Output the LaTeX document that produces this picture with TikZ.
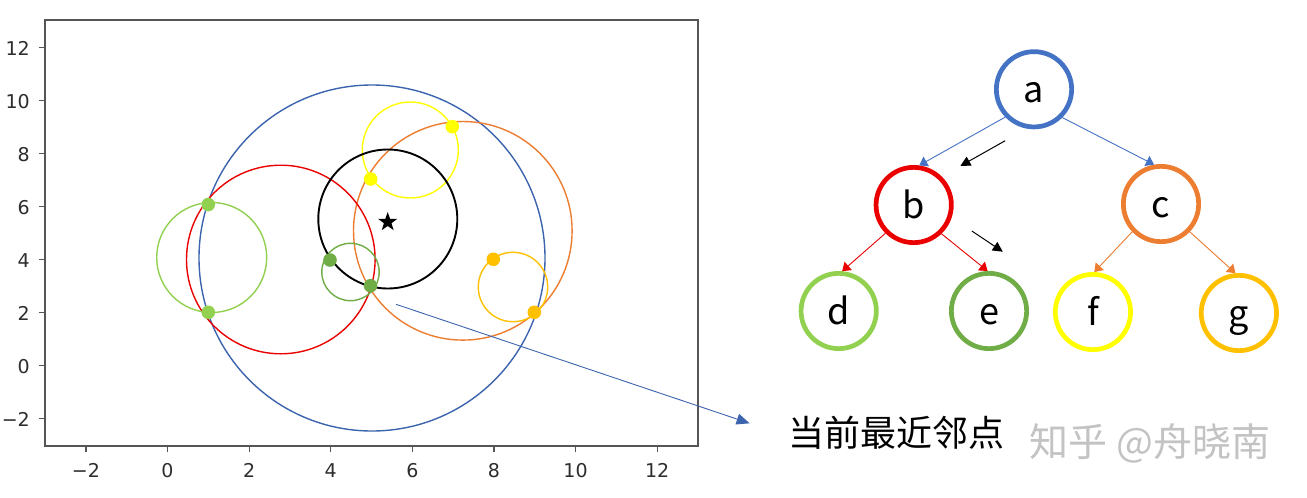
\documentclass[tikz,border=0pt]{standalone}
\usepackage{fontspec}
\newfontfamily\cjk{Noto Sans CJK SC}
\newfontfamily\tickfont{DejaVu Sans}
\usetikzlibrary{arrows.meta,shapes.geometric}
\definecolor{oblue}{RGB}{68,114,196}
\definecolor{lblue}{RGB}{60,100,175}
\definecolor{ored}{RGB}{235,0,0}
\definecolor{oorange}{RGB}{237,125,49}
\definecolor{olgreen}{RGB}{146,208,80}
\definecolor{odgreen}{RGB}{112,173,71}
\definecolor{oyellow}{RGB}{255,255,0}
\definecolor{ogold}{RGB}{255,192,0}
\definecolor{axgray}{RGB}{85,85,85}
\definecolor{ticktext}{RGB}{45,45,45}
\definecolor{wmgray}{RGB}{195,195,195}
\tikzset{
  ticklabel/.style={font=\tickfont\fontsize{19}{22}\selectfont, text=ticktext, inner sep=0},
  pcircle/.style={line width=1.4},
  pdot/.style={radius=6.8},
  tnode/.style={circle, line width=4.7, minimum size=75.3, inner sep=0,
    text height=27, text depth=0,
    font=\cjk\fontsize{36}{40}\selectfont},
  tedge/.style={line width=0.9, -{Triangle[length=8,width=11]}},
  hintarrow/.style={black, line width=1, -{Triangle[length=10,width=10]}},
}
\begin{document}
\begin{tikzpicture}[x=1pt,y=-1pt]
\useasboundingbox (0,0) rectangle (1307,498);
\fill[white] (0,0) rectangle (1307,498);
% ---------- plot ----------
\draw[axgray, line width=1.6] (45,20) rectangle (697.7,445.7);
\foreach \d/\t in {-2/−2,0/0,2/2,4/4,6/6,8/8,10/10,12/12}{
  \draw[axgray, line width=1.2] ({167.5+40.8*\d},445.7) -- ++(0,6);
  \node[ticklabel, anchor=north] at ({167.5+40.8*\d},463) {\t};
  \draw[axgray, line width=1.2] (45,{365.5-26.5*\d}) -- ++(-6,0);
  \node[ticklabel, anchor=east] at (30,{366.5-26.5*\d}) {\t};
}
\draw[pcircle, lblue] (372,258) circle[radius=173];
\draw[pcircle, oorange] (462.8,230.8) circle[radius=109.3];
\draw[pcircle, ored] (280.8,259.5) circle[radius=94.3];
\draw[pcircle, olgreen] (211.7,257.5) circle[radius=55];
\draw[pcircle, odgreen] (350.5,272) circle[radius=28.7];
\draw[pcircle, oyellow] (410.3,150) circle[radius=48];
\draw[pcircle, ogold] (513,287) circle[radius=34.7];
\draw[line width=1.9, black] (387.8,219) circle[radius=69.5];
\fill[olgreen] (208.3,204.5) circle[pdot];
\fill[olgreen] (208.3,312.3) circle[pdot];
\fill[odgreen] (330,260) circle[pdot];
\fill[odgreen] (370.5,285.7) circle[pdot];
\fill[oyellow] (370.7,179) circle[pdot];
\fill[oyellow] (452.3,126.7) circle[pdot];
\fill[ogold] (493.3,259.3) circle[pdot];
\fill[ogold] (534.3,312.3) circle[pdot];
\node[star, star points=5, star point ratio=2.5, fill=black, inner sep=0, minimum size=20] (query) at (387.7,222) {};
% ---------- pointer ----------
\coordinate (lstart) at (396,304.3);
\node[font=\cjk\fontsize{36}{40}\selectfont, inner sep=0] (nearest) at (896,432.5) {当前最近邻点};
\coordinate (ltip) at (749.6,423.3);
\draw[lblue, line width=0.9, -{Triangle[length=13,width=11]}] (lstart) -- (ltip);
\node[font=\cjk\fontsize{39}{43}\selectfont, text=wmgray, inner sep=0] (wm) at (1150,443) {知乎 @舟晓南};
% ---------- tree ----------
\node[tnode, draw=oblue] (a) at (1034,89.3) {a};
\node[tnode, draw=ored] (b) at (913.7,205) {b};
\node[tnode, draw=oorange] (c) at (1161,204) {c};
\node[tnode, draw=olgreen] (d) at (838.7,311) {d};
\node[tnode, draw=odgreen] (e) at (989,311) {e};
\node[tnode, draw=oyellow] (f) at (1092.9,312) {f};
\node[tnode, draw=ogold] (g) at (1238.9,313) {g};
\draw[tedge, oblue] (a.224) -- (b.82);
\draw[tedge, oblue] (a.315) -- (c.100);
\draw[tedge, ored] (b.225) -- (d.85);
\draw[tedge, ored] (b.314) -- (e.92);
\draw[tedge, oorange] (c.224) -- (f.88);
\draw[tedge, oorange] (c.316) -- (g.95);
\coordinate (h1s) at (1005.2,140.7);
\coordinate (h1e) at (960.4,166);
\coordinate (h2s) at (971.8,231);
\coordinate (h2e) at (1002.8,251.7);
\draw[hintarrow] (h1s) -- (h1e);
\draw[hintarrow] (h2s) -- (h2e);
\end{tikzpicture}
\end{document}
